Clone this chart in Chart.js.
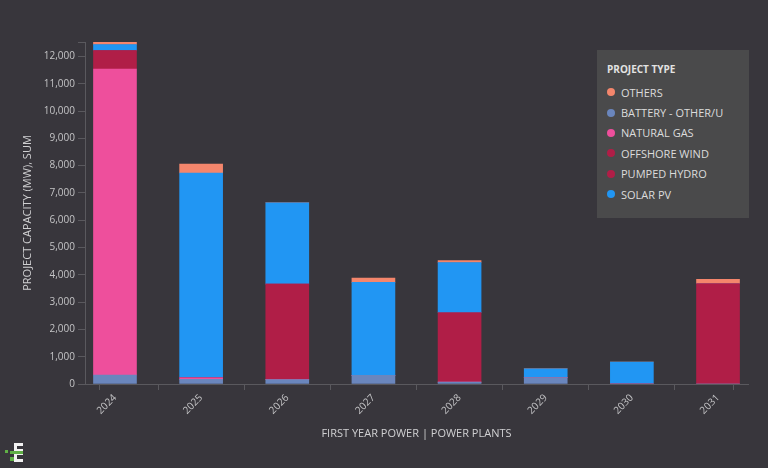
<!DOCTYPE html>
<html>
<head>
<meta charset="utf-8">
<script src="https://cdn.jsdelivr.net/npm/chart.js@4/dist/chart.umd.min.js"></script>
<style>
  html, body { margin: 0; padding: 0; background: #38363c; }
  #wrap { position: relative; width: 768px; height: 468px; overflow: hidden; background: #38363c; }
  #c { position: absolute; left: 0; top: 0; }
  #legend { position: absolute; left: 597px; top: 50px; width: 152px; height: 168px; background: #4a4a4b; box-sizing: border-box; padding: 12px 0 0 10px; font-family: "Open Sans", sans-serif; }
  #legend .title { color: #e2e2e2; font-size: 10px; font-weight: 700; margin-bottom: 6px; }
  #legend .item { display: flex; align-items: center; height: 20.4px; color: #dcdcdc; font-size: 11px; }
  #legend .dot { width: 8px; height: 8px; border-radius: 50%; margin-right: 6px; margin-left: 0px; }
  .logo { position: absolute; }
</style>
</head>
<body>
<div id="wrap">
  <canvas id="c" width="768" height="468"></canvas>
  <div id="legend"></div>
  <div class="logo" style="left:14px;top:443px;width:9px;height:19px;background:#f2f2f2;"></div>
  <div class="logo" style="left:17px;top:446px;width:6px;height:3px;background:#38363c;"></div>
  <div class="logo" style="left:17px;top:455px;width:6px;height:4px;background:#38363c;"></div>
  <div class="logo" style="left:5px;top:450px;width:3px;height:3px;background:#5fb046;"></div>
  <div class="logo" style="left:10px;top:451px;width:13px;height:3px;background:#5fb046;"></div>
  <div class="logo" style="left:10px;top:457px;width:4px;height:4px;background:#5fb046;"></div>
</div>
<script>
// ---- data ----
const years = ["2024", "2025", "2026", "2027", "2028", "2029", "2030", "2031"];
const battery      = [330, 170, 160, 315, 70, 235, 0, 0];
const naturalGas   = [11210, 60, 0, 0, 0, 0, 0, 0];
const offshoreWind = [680, 0, 3500, 0, 2540, 0, 0, 3674];
const pumpedHydro  = [0, 0, 0, 0, 0, 0, 0, 0];
const solarPV      = [220, 7500, 2980, 3407, 1842, 325, 806, 0];
const others       = [90, 330, 0, 160, 74, 0, 0, 158];
const yTickValues  = [0, 1000, 2000, 3000, 4000, 5000, 6000, 7000, 8000, 9000, 10000, 11000, 12000];

const seriesNames = ["BATTERY - OTHER/U", "NATURAL GAS", "OFFSHORE WIND", "PUMPED HYDRO", "SOLAR PV", "OTHERS"];
const seriesValues = [battery, naturalGas, offshoreWind, pumpedHydro, solarPV, others];
const seriesColors = ["#6a86bd", "#ee4f9c", "#b01e47", "#b01e47", "#2196f3", "#f4866c"];
const legendOrder = ["OTHERS", "BATTERY - OTHER/U", "NATURAL GAS", "OFFSHORE WIND", "PUMPED HYDRO", "SOLAR PV"];

const xNums = years.map(Number);
const totals = years.map((_, i) => seriesValues.reduce((s, arr) => s + arr[i], 0));
const yMax = Math.max(...totals);
const xMin = xNums[0] - 0.348;
const xMax = xNums[xNums.length - 1] + 0.348;

const datasets = seriesNames.map((name, k) => ({
  label: name,
  data: years.map((y, i) => ({ x: xNums[i], y: seriesValues[k][i] })),
  backgroundColor: seriesColors[k],
  borderWidth: 0,
  barThickness: 43
}));

const tickFont = { family: "'Open Sans', sans-serif", size: 10 };
const titleFont = { family: "'Open Sans', sans-serif", size: 11 };

const chart = new Chart(document.getElementById('c'), {
  type: 'bar',
  data: { datasets },
  options: {
    responsive: false,
    animation: false,
    maintainAspectRatio: false,
    layout: { padding: { left: 0, right: 20, top: 42, bottom: 0 } },
    plugins: { legend: { display: false }, tooltip: { enabled: false } },
    scales: {
      x: {
        type: 'linear',
        stacked: true,
        min: xMin,
        max: xMax,
        offset: false,
        afterFit: (s) => { s.height = 84; },
        afterBuildTicks: (s) => { s.ticks = [xMin, ...xNums, xMax].map(v => ({ value: v })); },
        grid: { drawOnChartArea: false, drawTicks: true, tickLength: 6, color: '#5a595e' },
        border: { color: '#5a595e' },
        ticks: {
          autoSkip: false,
          maxRotation: 45, minRotation: 45,
          color: '#c4c4c6',
          font: tickFont,
          padding: 2,
          callback: (v) => Number.isInteger(v) ? String(v) : ''
        },
        title: { display: true, text: 'FIRST YEAR POWER | POWER PLANTS', color: '#d0d0d2', font: titleFont, padding: { top: 0, bottom: 28 } }
      },
      y: {
        stacked: true,
        min: 0,
        max: yMax,
        afterFit: (s) => { s.width = 85; },
        afterBuildTicks: (s) => { s.ticks = [...yTickValues, yMax].map(v => ({ value: v })); },
        grid: { drawOnChartArea: false, drawTicks: true, tickLength: 7, color: '#5a595e' },
        border: { color: '#5a595e' },
        ticks: {
          autoSkip: false,
          color: '#c4c4c6',
          font: tickFont,
          padding: 3,
          callback: (v) => yTickValues.includes(v) ? v.toLocaleString('en-US') : ''
        },
        title: { display: true, text: 'PROJECT CAPACITY (MW), SUM', color: '#d0d0d2', font: titleFont, padding: { top: 21, bottom: 0 } }
      }
    }
  }
});

// HTML legend built from the chart datasets
const lg = document.getElementById('legend');
const t = document.createElement('div');
t.className = 'title';
t.textContent = 'PROJECT TYPE';
lg.appendChild(t);
legendOrder.forEach(name => {
  const ds = chart.data.datasets.find(d => d.label === name);
  const row = document.createElement('div');
  row.className = 'item';
  const dot = document.createElement('span');
  dot.className = 'dot';
  dot.style.background = ds.backgroundColor;
  const txt = document.createElement('span');
  txt.textContent = ds.label;
  row.appendChild(dot);
  row.appendChild(txt);
  lg.appendChild(row);
});
</script>
</body>
</html>
